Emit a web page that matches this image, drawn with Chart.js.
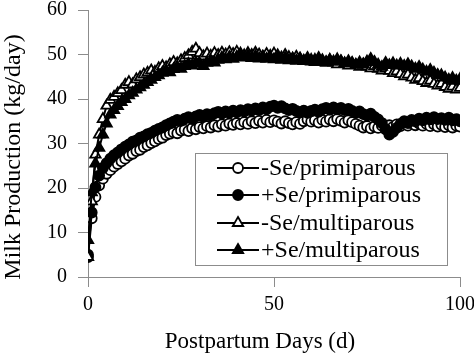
<!DOCTYPE html>
<html>
<head>
<meta charset="utf-8">
<script src="https://cdn.jsdelivr.net/npm/chart.js@4/dist/chart.umd.min.js"></script>
<style>
  html, body { margin: 0; padding: 0; background: #fff; }
  canvas { display: block; }
</style>
</head>
<body>
<canvas id="c" width="474" height="353"></canvas>
<script>
// postpartum day 0..100
var days = [];
for (var d = 0; d <= 100; d++) days.push(d);

var seNegPrimi = [4.5, 13.2, 18.0, 20.6, 22.1, 23.2, 24.0, 24.8, 25.4, 26.0,
  26.6, 27.3, 27.7, 28.3, 28.6, 29.2, 29.6, 30.1, 30.5, 31.0,
  31.3, 31.9, 32.2, 32.5, 32.3, 32.9, 33.1, 32.8, 33.4, 33.2,
  33.7, 33.4, 33.9, 33.6, 34.1, 33.8, 34.3, 34.0, 34.5, 34.2,
  34.6, 34.3, 34.8, 34.4, 35.0, 34.6, 35.1, 34.7, 35.3, 34.8,
  35.2, 34.9, 34.5, 35.0, 34.6, 34.3, 34.8, 34.4, 35.0, 35.4,
  34.9, 35.2, 34.7, 35.3, 34.9, 35.4, 35.0, 35.5, 35.1, 34.7,
  35.2, 34.8, 34.4, 34.0, 33.6, 33.9, 33.4, 33.8, 33.5, 34.0,
  33.6, 34.1, 33.7, 34.3, 33.9, 34.4, 34.0, 34.6, 34.1, 34.5,
  34.0, 34.4, 33.9, 34.3, 33.8, 34.2, 33.7, 34.1, 33.6, 34.0, 33.8];

var sePosPrimi = [5.0, 14.5, 20.2, 22.8, 24.5, 25.6, 26.6, 27.4, 28.0, 28.7,
  29.3, 29.8, 30.4, 30.7, 31.3, 31.6, 32.1, 32.4, 32.9, 33.3,
  33.6, 34.1, 34.5, 34.9, 35.3, 35.1, 35.6, 35.9, 35.5, 36.1,
  36.4, 36.0, 36.6, 36.3, 36.8, 37.1, 36.7, 37.2, 36.9, 37.4,
  37.0, 37.5, 37.2, 37.7, 37.4, 37.9, 37.5, 38.1, 37.7, 38.3,
  38.5, 38.0, 38.4, 37.9, 37.5, 37.8, 37.3, 37.0, 37.4, 36.9,
  37.3, 37.6, 37.1, 37.7, 38.0, 37.6, 38.1, 37.7, 38.0, 37.5,
  37.8, 37.3, 36.9, 37.2, 36.6, 36.3, 36.7, 36.0, 35.4, 34.6,
  33.2, 32.0, 32.6, 33.5, 34.4, 35.0, 34.6, 35.3, 35.0, 35.6,
  35.2, 35.8, 35.4, 35.9, 35.5, 35.7, 35.3, 35.8, 35.2, 35.5, 35.0];

var seNegMulti = [4.5, 17.0, 27.5, 32.0, 35.5, 38.5, 39.8, 40.5, 41.3, 42.0,
  43.2, 43.8, 43.3, 44.4, 44.9, 45.5, 45.9, 46.4, 46.1, 46.9,
  47.4, 47.1, 47.8, 48.3, 48.0, 48.7, 49.2, 49.8, 50.6, 51.3,
  50.3, 49.6, 50.2, 49.7, 50.3, 49.9, 50.4, 50.0, 50.5, 50.1,
  50.6, 50.2, 49.8, 50.3, 49.9, 50.4, 50.0, 49.5, 50.1, 49.7,
  50.2, 49.8, 49.3, 49.9, 49.4, 49.0, 49.5, 49.1, 48.6, 49.2,
  48.8, 48.3, 48.9, 48.5, 48.1, 48.7, 48.2, 47.8, 48.4, 47.9,
  47.5, 48.0, 47.6, 47.2, 47.7, 47.3, 46.9, 47.4, 46.8, 46.4,
  46.9, 46.3, 45.8, 46.2, 45.6, 45.1, 45.5, 44.8, 44.3, 44.7,
  44.0, 43.6, 44.1, 43.4, 43.0, 43.4, 42.7, 42.3, 42.8, 42.1, 42.5];

var sePosMulti = [8.3, 19.0, 25.5, 29.0, 32.0, 34.5, 36.5, 37.5, 38.4, 39.3,
  40.0, 40.8, 41.4, 42.1, 42.6, 43.2, 43.8, 44.3, 44.9, 45.3,
  45.9, 46.3, 46.0, 46.7, 47.1, 46.8, 47.4, 47.9, 47.5, 48.2,
  48.0, 47.4, 48.1, 48.6, 48.2, 48.8, 49.3, 48.9, 49.4, 49.0,
  49.5, 49.8, 49.3, 49.7, 49.2, 49.6, 49.1, 49.5, 49.0, 49.4,
  48.9, 49.3, 48.8, 49.2, 48.7, 49.1, 48.6, 49.0, 48.5, 48.9,
  48.4, 48.8, 49.2, 48.7, 48.3, 48.8, 48.4, 48.9, 48.5, 48.0,
  48.5, 48.1, 47.7, 48.2, 47.8, 48.4, 49.0, 48.3, 47.7, 47.2,
  48.1, 47.6, 48.0, 47.5, 47.9, 47.4, 47.8, 47.3, 46.8, 47.2,
  46.6, 46.1, 46.5, 45.9, 45.4, 45.3, 44.8, 44.3, 44.7, 44.1, 44.5];

var seriesNames = ["-Se/primiparous", "+Se/primiparous", "-Se/multiparous", "+Se/multiparous"];
var yTicks = [0, 10, 20, 30, 40, 50, 60];
var xTicks = [0, 50, 100];
var xTitle = "Postpartum Days (d)";
var yTitle = "Milk Production (kg/day)";

var serif = "'Liberation Serif', 'Times New Roman', serif";
var axisGray = "#8c8c8c";

function series(i, values, style, filled) {
  return {
    label: seriesNames[i],
    data: values.map(function(v, k) { return { x: days[k], y: v }; }),
    borderColor: "#000",
    borderWidth: 2,
    backgroundColor: filled ? "#000" : "#fff",
    pointStyle: style,
    pointRadius: style === "triangle" ? 6 : 5,
    pointBorderWidth: 1.8,
    pointBorderColor: "#000",
    pointBackgroundColor: filled ? "#000" : "#fff",
    tension: 0,
    order: 4 - i
  };
}

function tightFit(scale) {
  scale.paddingLeft = 0;
  scale.paddingRight = 0;
  scale.paddingTop = 0;
  scale.paddingBottom = 0;
}

// legend box with line + marker samples, and both axis titles
var extras = {
  id: "extras",
  afterDraw: function(chart) {
    var ctx = chart.ctx;
    ctx.save();
    ctx.strokeStyle = axisGray;
    ctx.lineWidth = 1;
    ctx.strokeRect(195.5, 153.5, 252, 112);

    var rows = [168, 195, 223, 250];
    chart.data.datasets.forEach(function(ds, i) {
      var y = rows[i];
      ctx.strokeStyle = "#000";
      ctx.lineWidth = 1.8;
      ctx.beginPath();
      ctx.moveTo(217, y);
      ctx.lineTo(259, y);
      ctx.stroke();
      ctx.fillStyle = ds.pointBackgroundColor;
      Chart.helpers.drawPoint(ctx, {
        pointStyle: ds.pointStyle,
        radius: ds.pointRadius,
        borderWidth: ds.pointBorderWidth
      }, 238, y);
      ctx.fillStyle = "#000";
      ctx.font = "24px " + serif;
      ctx.textAlign = "left";
      ctx.textBaseline = "middle";
      ctx.fillText(ds.label, 261, y + 1);
    });

    ctx.fillStyle = "#000";
    ctx.font = "23px " + serif;
    ctx.textAlign = "center";
    ctx.textBaseline = "middle";
    ctx.fillText(xTitle, 260, 342);

    ctx.translate(14, 157);
    ctx.rotate(-Math.PI / 2);
    ctx.font = "24px " + serif;
    ctx.fillText(yTitle, 0, 0);
    ctx.restore();
  }
};

new Chart(document.getElementById("c"), {
  type: "line",
  data: {
    datasets: [
      series(0, seNegPrimi, "circle", false),
      series(1, sePosPrimi, "circle", true),
      series(2, seNegMulti, "triangle", false),
      series(3, sePosMulti, "triangle", true)
    ]
  },
  options: {
    responsive: false,
    animation: false,
    devicePixelRatio: 1,
    layout: { padding: { left: 0, right: 14, top: 10, bottom: 0 } },
    plugins: {
      legend: { display: false },
      tooltip: { enabled: false }
    },
    scales: {
      x: {
        type: "linear",
        min: 0,
        max: 100,
        afterBuildTicks: function(scale) {
          scale.ticks = xTicks.map(function(v) { return { value: v }; });
        },
        grid: { drawOnChartArea: false, drawTicks: true, tickLength: 10, color: axisGray },
        border: { display: true, color: axisGray, width: 1 },
        ticks: { color: "#000", font: { family: serif, size: 20 }, padding: 6, maxRotation: 0 },
        afterFit: function(scale) { tightFit(scale); scale.height = 76; }
      },
      y: {
        min: 0,
        max: 60,
        afterBuildTicks: function(scale) {
          scale.ticks = yTicks.map(function(v) { return { value: v }; });
        },
        grid: { drawOnChartArea: false, drawTicks: true, tickLength: 10, color: axisGray },
        border: { display: true, color: axisGray, width: 1 },
        ticks: { color: "#000", font: { family: serif, size: 20 }, padding: 11 },
        afterFit: function(scale) { tightFit(scale); scale.width = 88; }
      }
    }
  },
  plugins: [extras]
});
</script>
</body>
</html>
